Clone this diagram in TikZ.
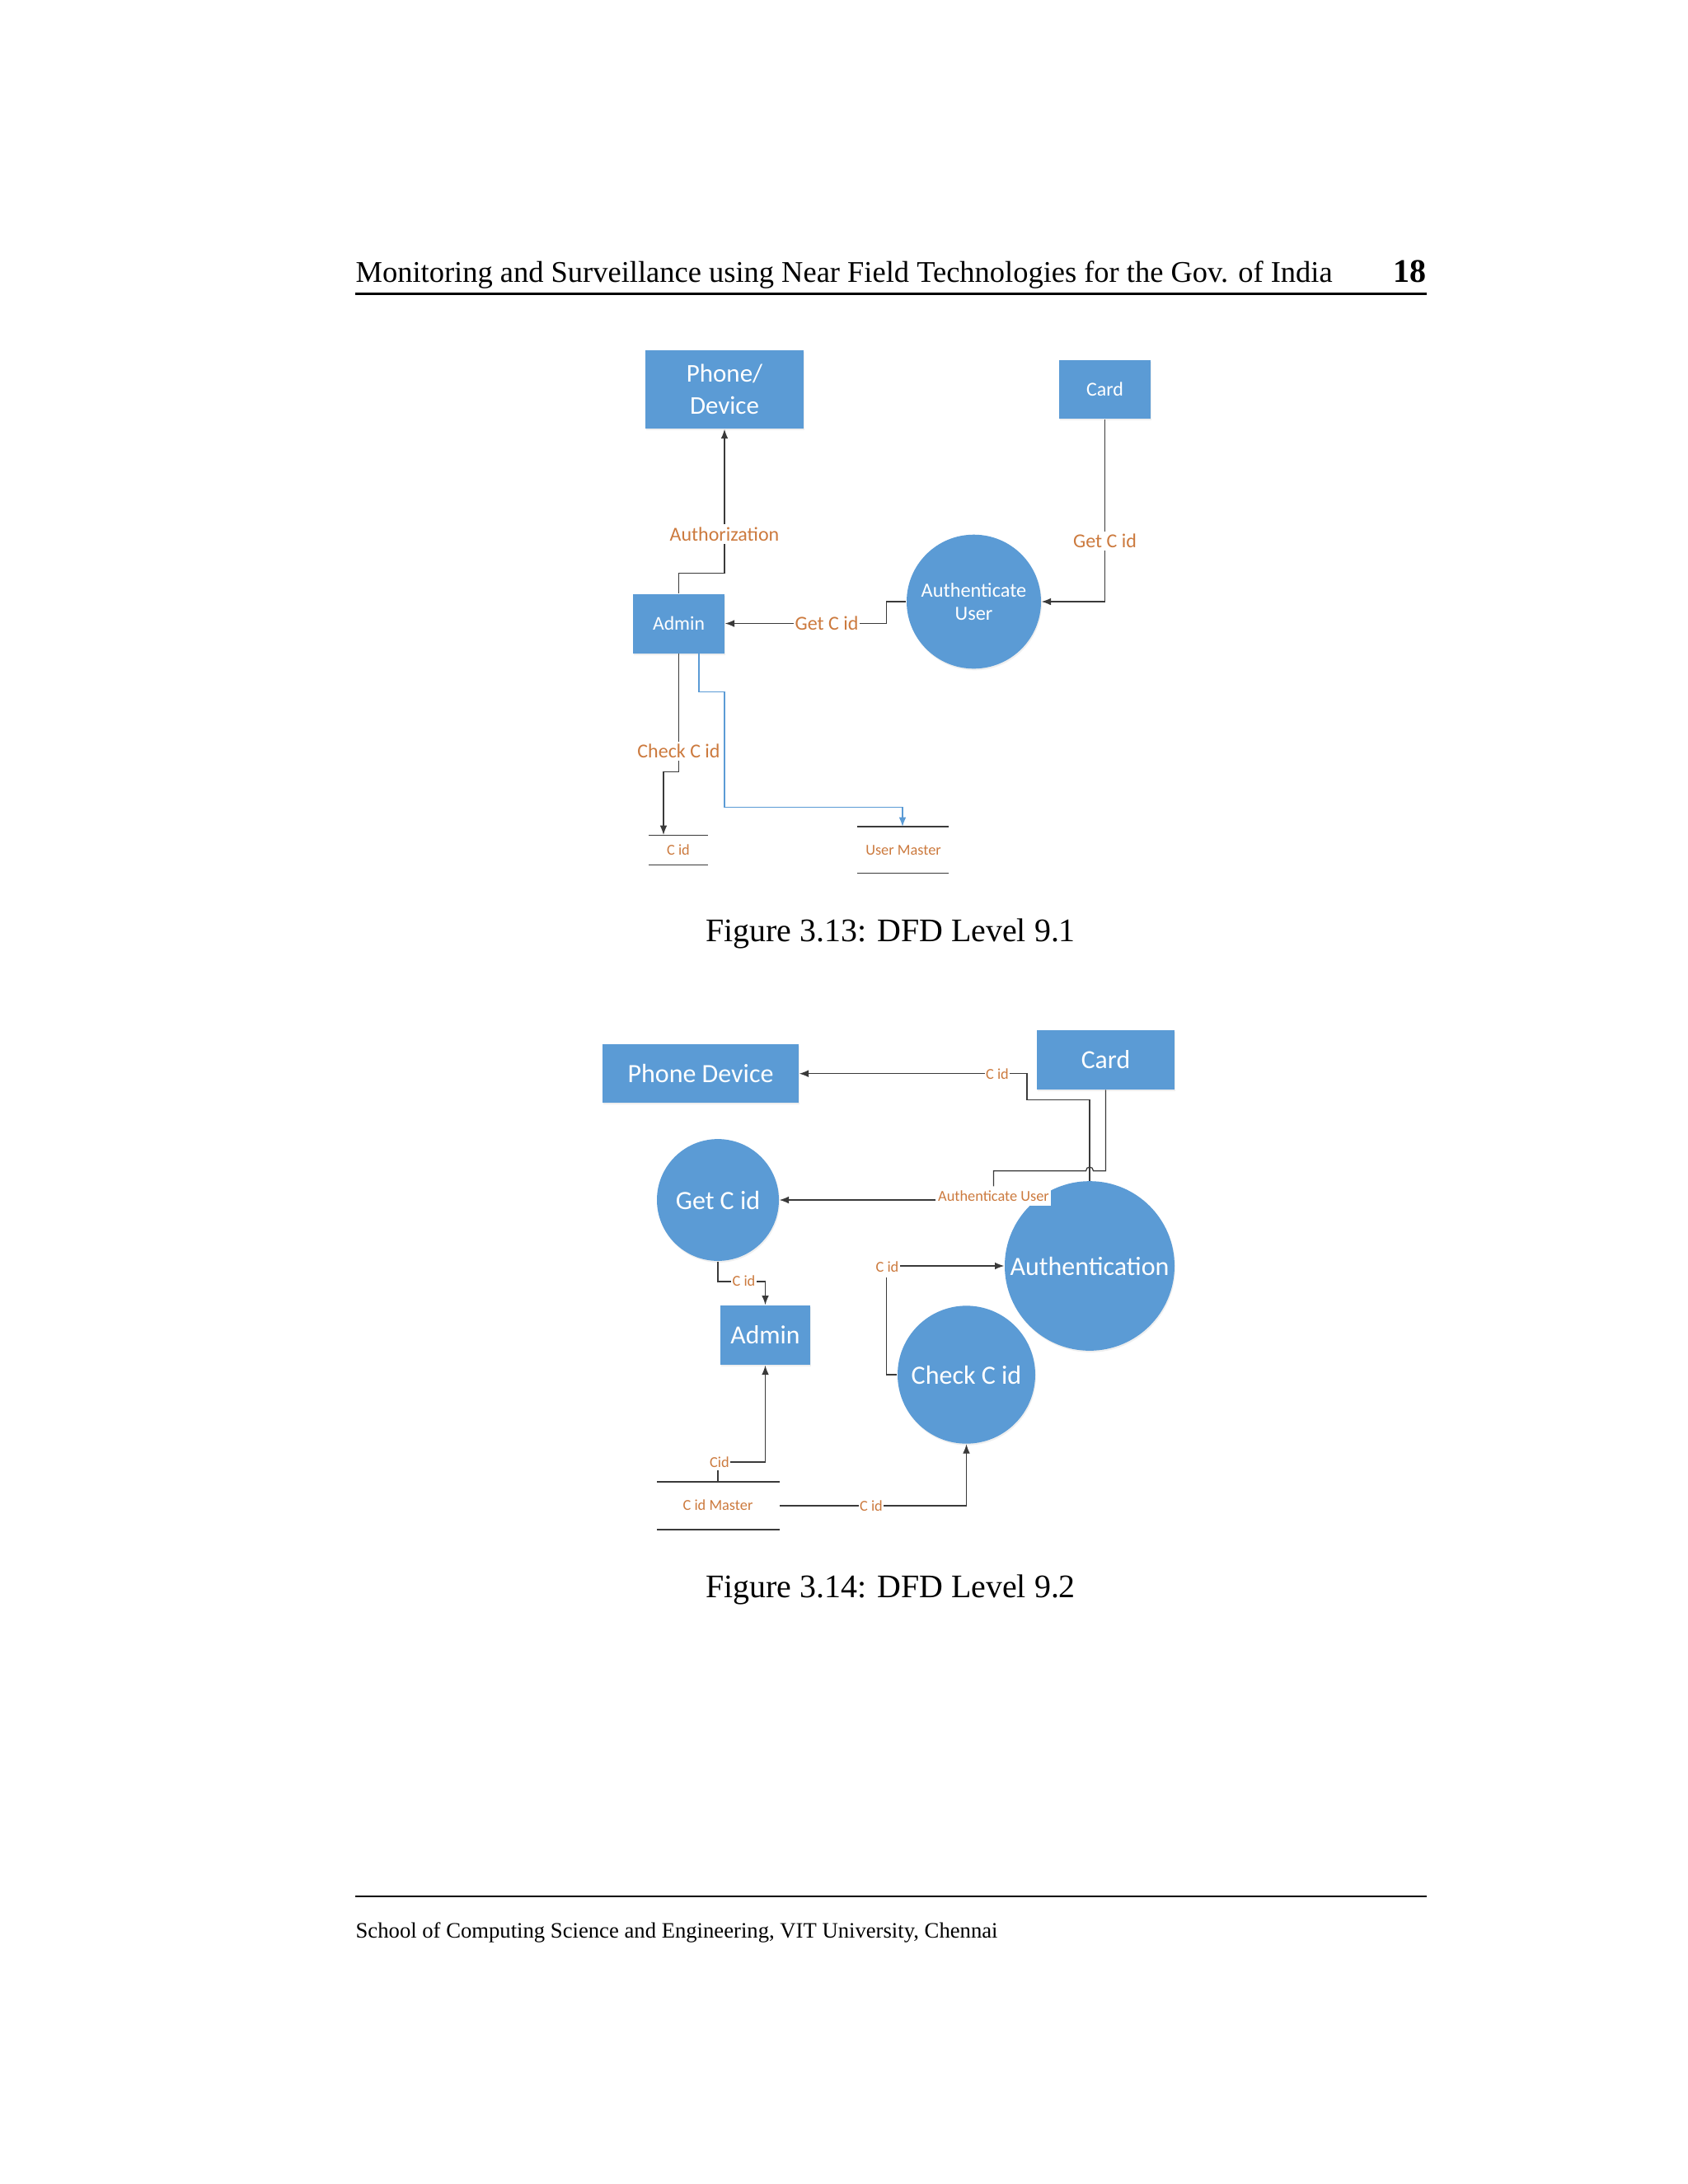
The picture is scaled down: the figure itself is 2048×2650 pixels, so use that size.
\documentclass[tikz,border=0pt]{standalone}
\usepackage{fontspec}
\setmainfont{Liberation Serif}
\newfontfamily\diafont{Carlito}
\usetikzlibrary{arrows.meta,shapes.geometric,shadows}
\definecolor{boxblue}{HTML}{5B9BD5}
\definecolor{lblorange}{HTML}{CC7A3E}
\definecolor{wire}{HTML}{3A3A3A}
\definecolor{bluewire}{HTML}{5B9BD5}
\def\px{0.3pt}
\tikzset{
  x=0.3pt,y=-0.3pt,
  softshadow/.style={drop shadow={opacity=.12,shadow xshift=.3pt,shadow yshift=-.6pt}},
  procbox/.style={rectangle,fill=boxblue,text=white,align=center,inner sep=0pt,font=\diafont,softshadow},
  proccirc/.style={ellipse,fill=boxblue,inner sep=0pt,softshadow},
  circtext/.style={text=white,align=center,inner sep=0pt},
  wirearrow/.style={draw=wire,line width=.38pt,-{Latex[length=3.4pt,width=2.6pt]}},
  plainwire/.style={draw=wire,line width=.38pt},
  bluearrow/.style={draw=bluewire,line width=.42pt,-{Latex[length=3.4pt,width=2.6pt]}},
  lbl/.style={fill=white,text=lblorange,inner xsep=.4pt,inner ysep=1pt,font=\diafont\fontsize{7.2}{8}\selectfont},
  smalllbl/.style={lbl,font=\diafont\fontsize{5.5}{6.5}\selectfont},
  storetxt/.style={text=lblorange,inner sep=0pt,font=\diafont\fontsize{5.5}{6.5}\selectfont},
  storeline/.style={draw=wire,line width=.38pt},
  pagetext/.style={anchor=base west,inner sep=0pt,font=\fontsize{10.94}{13}\selectfont},
  captext/.style={anchor=base,inner sep=0pt,font=\fontsize{11.97}{14}\selectfont},
}
\begin{document}
\begin{tikzpicture}
\useasboundingbox (0,0) rectangle (2048,2650);
\fill[white] (0,0) rectangle (2048,2650);
% page furniture
\node[pagetext] (head) at (431,342) {Monitoring and Surveillance using Near Field Technologies for the Gov. of India};
\node[anchor=base east,inner sep=0pt,font=\bfseries\fontsize{12}{15}\selectfont] (pg) at (1731,342) {18};
\draw[line width=.95pt] (431,356.5) -- (1731,356.5);
\draw[line width=.5pt] (431,2301) -- (1731,2301);
\node[pagetext,font=\fontsize{8}{10}\selectfont] (foot) at (431,2351) {School of Computing Science and Engineering, VIT University, Chennai};
\node[captext] (cap1) at (1080.5,1142) {Figure 3.13: DFD Level 9.1};
\node[captext] (cap2) at (1080.5,1938) {Figure 3.14: DFD Level 9.2};

% ---------- Figure 3.13
\node[procbox,minimum width=192*\px,minimum height=95.4*\px,font=\diafont\fontsize{9.3}{11.6}\selectfont] (phoneA) at (879,472.4) {Phone/\\Device};
\node[procbox,minimum width=111*\px,minimum height=71*\px,font=\diafont\fontsize{7.2}{8}\selectfont] (cardA) at (1340.5,472.4) {Card};
\node[procbox,minimum width=111*\px,minimum height=72*\px,font=\diafont\fontsize{7.1}{8}\selectfont] (adminA) at (823.5,756.5) {Admin};
\node[proccirc,minimum width=163*\px,minimum height=162.6*\px] (authA) at (1181.5,730) {};
\node[circtext,font=\diafont\fontsize{7.3}{8.6}\selectfont] (authAtxt) at (authA) {Authenticate\\User};

\draw[storeline] (787,1013.6) -- (859,1013.6) (787,1049.6) -- (859,1049.6);
\node[storetxt] (cidA) at (823,1031.4) {C id};
\draw[storeline] (1040,1003) -- (1151,1003) (1040,1059.6) -- (1151,1059.6);
\node[storetxt] (userA) at (1096,1031.4) {User Master};

\draw[wirearrow] (adminA.north) -- ++(0,-24.5) -| (phoneA.south);
\node[lbl] (lAuthz) at (879,648) {Authorization};
\draw[wirearrow] (cardA.south) |- (authA.east);
\node[lbl] (lGetA) at (1340.5,656.7) {Get C id};
\draw[wirearrow] (authA.west) -- ++(-24,0) |- (adminA.east);
\node[lbl] (lGetB) at (1003,756.5) {Get C id};
\draw[wirearrow] (adminA.south) -- ++(0,143.2) -| (805,1013);
\node[lbl] (lCheck) at (823.5,911.7) {Check C id};
\draw[bluearrow] (848,792.5) -- (848,839.3) -- (879,839.3) |- (1095,979.4) -- (1095,1003);

% ---------- Figure 3.14
\node[procbox,minimum width=238*\px,minimum height=71.4*\px,font=\diafont\fontsize{9.6}{11}\selectfont] (phoneB) at (850,1302.7) {Phone Device};
\node[procbox,minimum width=167*\px,minimum height=71.4*\px,font=\diafont\fontsize{9.5}{11}\selectfont] (cardB) at (1341.5,1286) {Card};
\node[procbox,minimum width=109*\px,minimum height=72*\px,font=\diafont\fontsize{9.5}{11}\selectfont] (adminB) at (928.5,1620) {Admin};
\node[proccirc,minimum width=148*\px,minimum height=147.8*\px] (getB) at (871,1456) {};
\node[circtext,font=\diafont\fontsize{9.6}{11}\selectfont] (getBtxt) at (getB) {Get C id};
\node[proccirc,minimum width=206*\px,minimum height=205.7*\px] (authB) at (1322,1536) {};
\node[circtext,font=\diafont\fontsize{9.6}{11}\selectfont] (authBtxt) at (authB) {Authentication};
\node[proccirc,minimum width=167*\px,minimum height=167.3*\px] (checkB) at (1172.5,1668) {};
\node[circtext,font=\diafont\fontsize{9.6}{11}\selectfont] (checkBtxt) at (checkB) {Check C id};
\draw[storeline] (797,1798) -- (946,1798) (797,1856) -- (946,1856);
\node[storetxt] (masterB) at (871,1826.5) {C id Master};
\coordinate (masterE) at (946,1827);
\coordinate (masterN) at (871,1798);

\node[smalllbl,minimum width=139*\px,minimum height=23*\px,inner sep=0pt] (lAuthU) at (1205.5,1451.5) {Authenticate User};
\draw[wirearrow] (authB.north) -- (1322,1334.3) -- (1246,1334.3) |- (phoneB.east);
\draw[plainwire] (cardB.south) -- (1341.5,1420.8) -- (1326.5,1420.8) .. controls (1326.5,1414.5) and (1317.5,1414.5) .. (1317.5,1420.8) -| (lAuthU.north);
\draw[wirearrow] (lAuthU.west |- getB.east) -- (getB.east);
\node[smalllbl] (lCidA) at (1210,1302.9) {C id};
\draw[wirearrow] (getB.south) -- ++(0,24.3) -| (adminB.north);
\node[smalllbl] (lCidB) at (902.5,1554.3) {C id};
\draw[wirearrow] (checkB.west) -- ++(-12.5,0) |- (authB.west);
\node[smalllbl,inner ysep=2pt] (lCidC) at (1076.5,1537) {C id};
\draw[wirearrow] (masterN) -- (871,1774) -| (adminB.south);
\node[smalllbl] (lCidD) at (873,1774) {Cid};
\draw[wirearrow] (masterE) -| (checkB.south);
\node[smalllbl] (lCidE) at (1057,1827) {C id};
\end{tikzpicture}
\end{document}
